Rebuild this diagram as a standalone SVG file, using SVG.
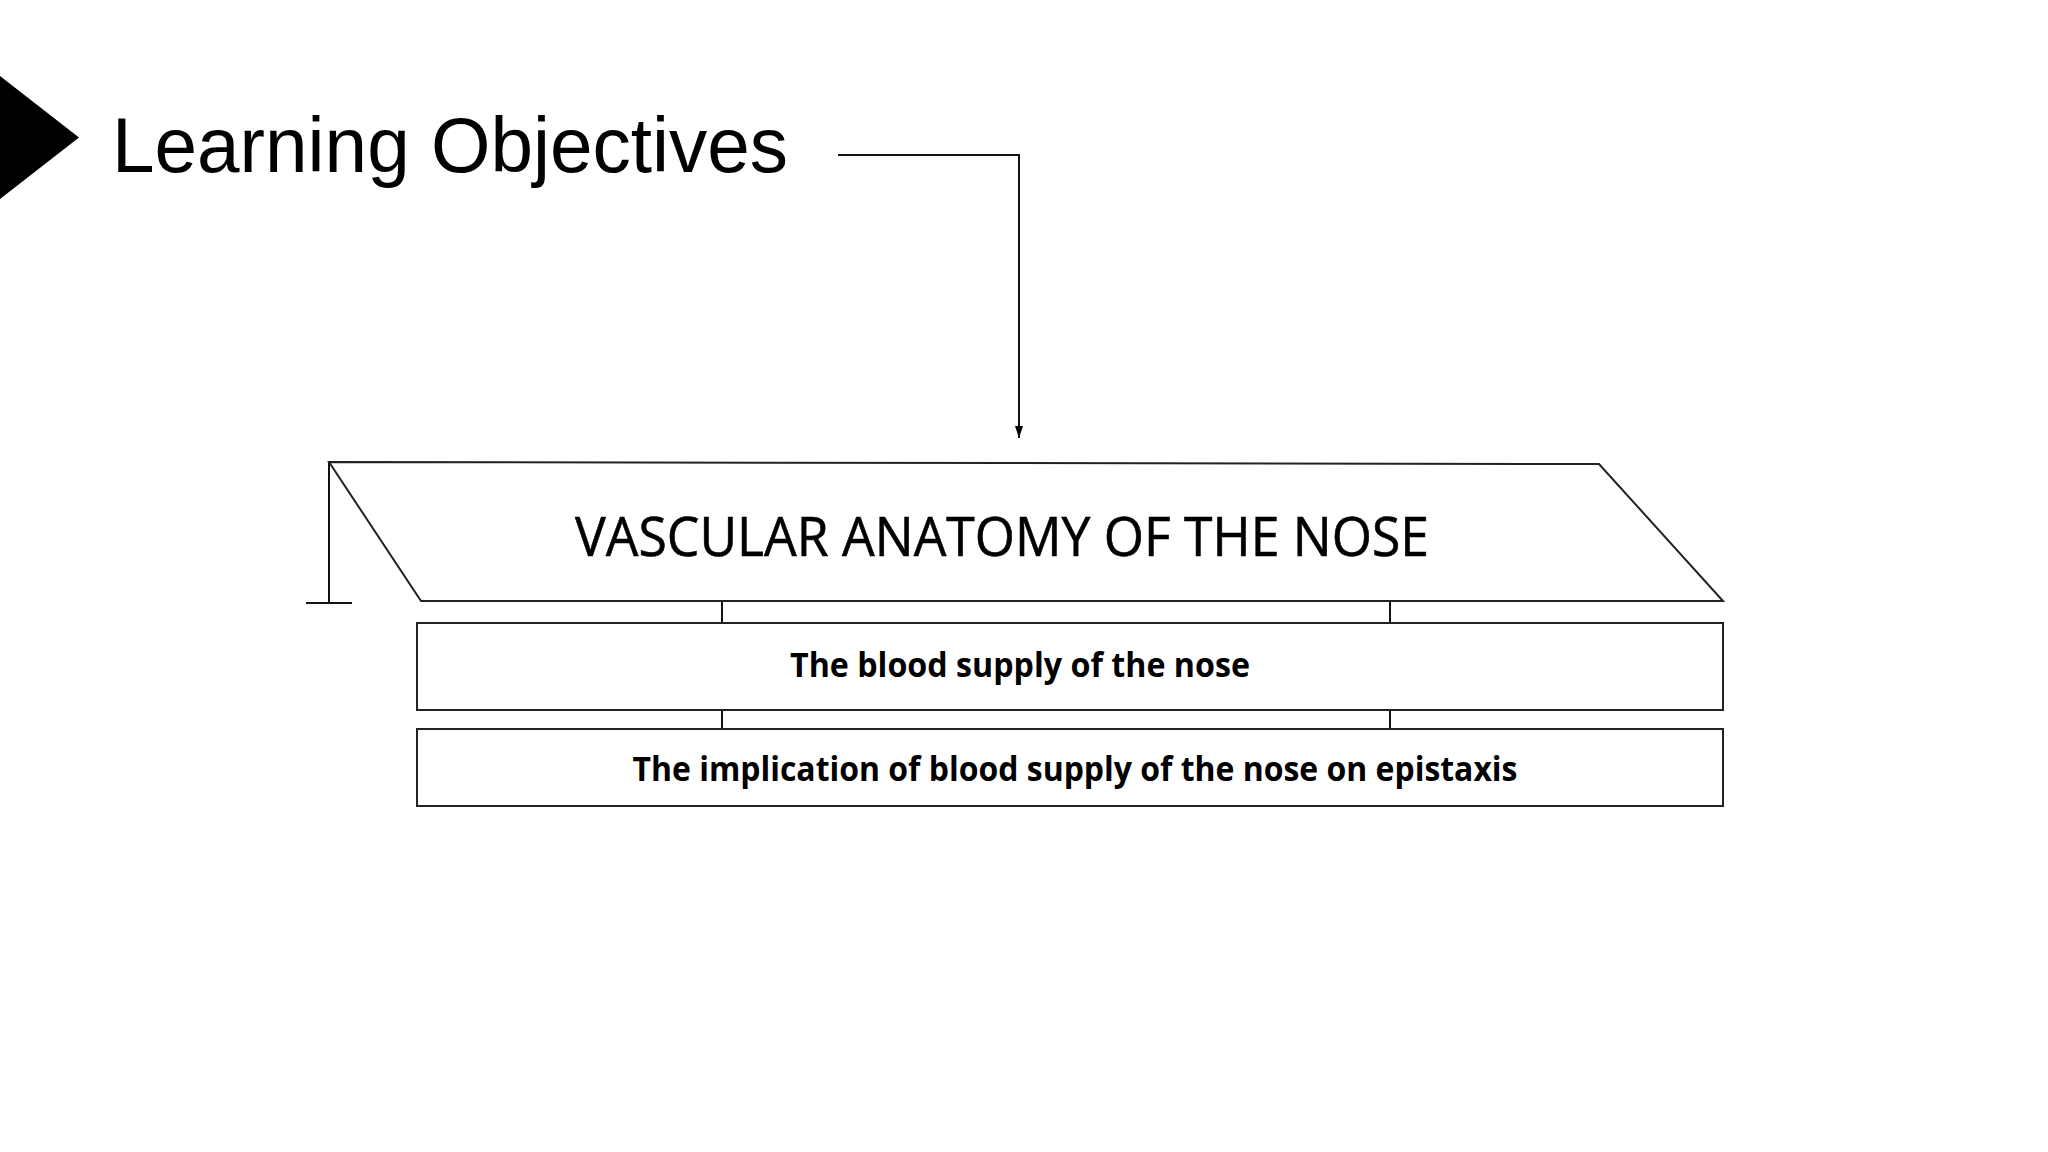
<svg xmlns="http://www.w3.org/2000/svg" width="2048" height="1152" viewBox="0 0 2048 1152">
<style>
.ln{fill:none;stroke:#111;stroke-width:2}
.box{fill:#fff;stroke:#222;stroke-width:2}
.hdr{font-family:"Liberation Sans",Arial,sans-serif;font-size:77px;fill:#000}
.main{font-family:"Open Sans","Noto Sans",sans-serif;font-size:55px;fill:#000;stroke:#000;stroke-width:0.6}
.sub{font-family:"Open Sans","Noto Sans",sans-serif;font-size:34px;font-weight:bold;fill:#000}
</style>
<defs>
<marker id="arr" viewBox="0 0 12 8" refX="12" refY="4" markerWidth="12" markerHeight="8" markerUnits="userSpaceOnUse" orient="auto">
<path d="M0,0 L12,4 L0,8 z" fill="#000"/>
</marker>
</defs>
<rect width="2048" height="1152" fill="#fff"/>
<g id="title">
<polygon points="0,76 79,137.5 0,199" fill="#000"/>
<text class="hdr" x="112" y="172" textLength="676" lengthAdjust="spacingAndGlyphs">Learning Objectives</text>
</g>
<g id="connectors">
<path class="ln" d="M838,155 H1019 V438" marker-end="url(#arr)"/>
<path class="ln" d="M329,462 V603 M306,603 H352"/>
<path class="ln" d="M722,601 V623 M1390,601 V623 M722,710 V729 M1390,710 V729"/>
</g>
<g id="main-node">
<polygon class="box" points="329,462 1599,464 1723,601 421,601"/>
<text class="main" x="1002" y="556" text-anchor="middle" textLength="854" lengthAdjust="spacingAndGlyphs">VASCULAR ANATOMY OF THE NOSE</text>
</g>
<g id="node-blood-supply">
<rect class="box" x="417" y="623" width="1306" height="87"/>
<text class="sub" x="1020" y="677" text-anchor="middle" textLength="460" lengthAdjust="spacingAndGlyphs">The blood supply of the nose</text>
</g>
<g id="node-implication">
<rect class="box" x="417" y="729" width="1306" height="77"/>
<text class="sub" x="1075" y="781" text-anchor="middle" textLength="885" lengthAdjust="spacingAndGlyphs">The implication of blood supply of the nose on epistaxis</text>
</g>
</svg>
